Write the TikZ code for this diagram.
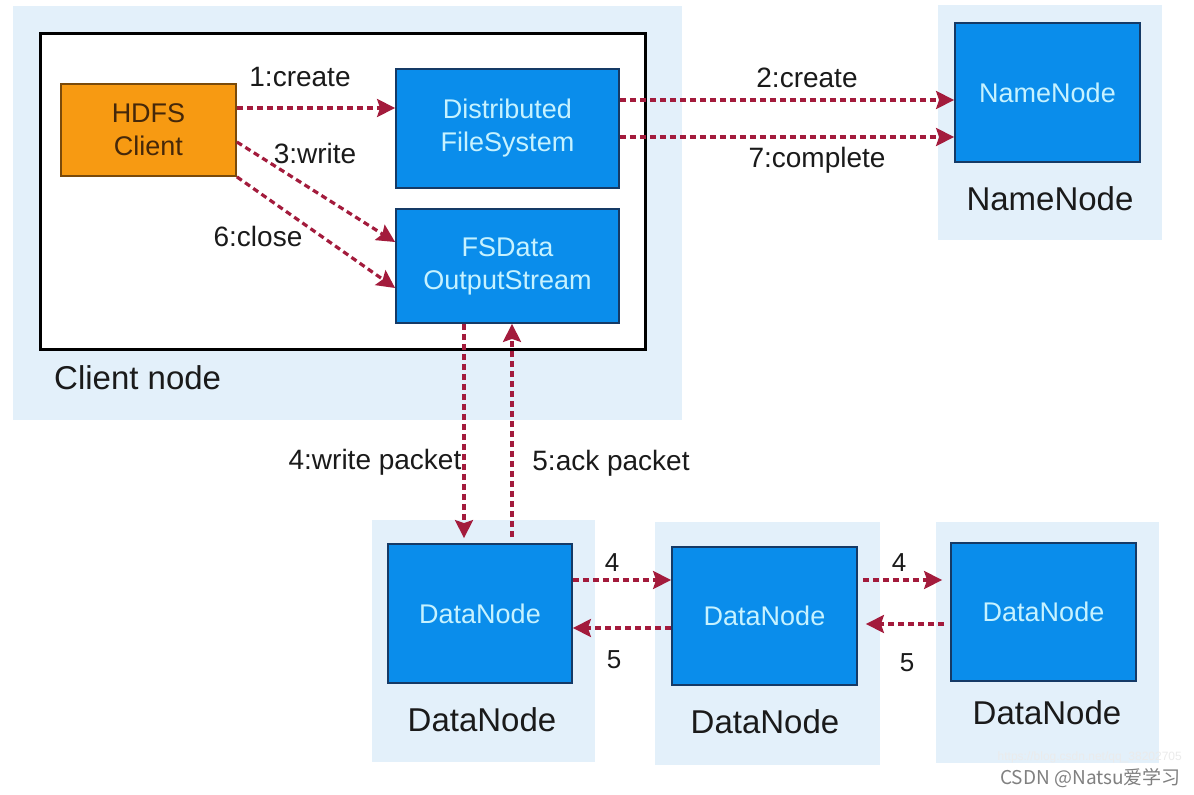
\documentclass[tikz,border=0pt]{standalone}
\usepackage{fontspec}
\setmainfont{Liberation Sans}
\newfontfamily\cjk{Noto Sans CJK SC}
\usetikzlibrary{arrows.meta,calc}
\definecolor{panelbg}{HTML}{E3F0FA}
\definecolor{boxblue}{HTML}{0A8DEB}
\definecolor{boxedge}{HTML}{153A66}
\definecolor{boxtext}{HTML}{C6F2FF}
\definecolor{orangefill}{HTML}{F79A12}
\definecolor{orangeedge}{HTML}{7A4A0A}
\definecolor{orangetext}{HTML}{45280A}
\definecolor{arrowred}{HTML}{A31B3C}
\definecolor{labeltext}{HTML}{1A1A1A}
\tikzset{
  panel/.style={fill=panelbg, draw=none},
  bluebox/.style={draw=boxedge, line width=1.8pt, fill=boxblue, text=boxtext,
    align=center, inner sep=0pt, font=\fontsize{27}{33}\selectfont},
  orangebox/.style={draw=orangeedge, line width=1.8pt, fill=orangefill, text=orangetext,
    align=center, inner sep=0pt, font=\fontsize{27}{33}\selectfont},
  biglabel/.style={text=labeltext, inner sep=0pt, font=\fontsize{33}{38}\selectfont},
  edgelabel/.style={text=labeltext, inner sep=0pt, font=\fontsize{28}{32}\selectfont},
  numlabel/.style={text=labeltext, inner sep=0pt, font=\fontsize{26}{30}\selectfont},
  arr/.style={draw=arrowred, line width=3.2pt, dash pattern=on 6pt off 4pt,
    -{Stealth[length=18pt,width=18pt,inset=3pt]}},
}
\begin{document}
\begin{tikzpicture}[x=1pt,y=-1pt]
\useasboundingbox (0,0) rectangle (1194,795);
\fill[white] (0,0) rectangle (1194,795);

% panels
\path[panel] (13,6) rectangle (682,420);
\path[panel] (938,5) rectangle (1162,240);
\path[panel] (372,520) rectangle (595,762);
\path[panel] (655,522) rectangle (880,765);
\path[panel] (936,522) rectangle (1159,763);

% client frame
\node[draw=black, line width=3pt, fill=white, minimum width=605pt, minimum height=316pt, inner sep=0pt] (frame) at (342.5,191) {};

% nodes
\node[orangebox, minimum width=175pt, minimum height=92pt] (hdfs) at (148.5,130) {HDFS\\Client};
\node[bluebox, minimum width=223pt, minimum height=119pt] (dfs) at (507.5,128.5) {Distributed\\FileSystem};
\node[bluebox, minimum width=223pt, minimum height=114pt] (fsd) at (507.5,266) {FSData\\OutputStream};
\node[bluebox, minimum width=185pt, minimum height=139pt] (nn) at (1047.5,92.5) {NameNode};
\node[bluebox, minimum width=184pt, minimum height=139pt] (dn1) at (480,613.5) {DataNode};
\node[bluebox, minimum width=185pt, minimum height=138pt] (dn2) at (764.5,616) {DataNode};
\node[bluebox, minimum width=185pt, minimum height=138pt] (dn3) at (1043.5,612) {DataNode};

% big labels
\node[biglabel, anchor=west] (clientlbl) at (54,378) {Client node};
\node[biglabel] (nnlbl) at (1050,199) {NameNode};
\node[biglabel] (dn1lbl) at (482,720) {DataNode};
\node[biglabel] (dn2lbl) at (765,722) {DataNode};
\node[biglabel] (dn3lbl) at (1047,713) {DataNode};

% connectors
\draw[arr] ([yshift=22pt]hdfs.east) -- ([yshift=22pt]hdfs.east -| dfs.west);
\draw[arr] ([yshift=-12pt]hdfs.east) -- ([yshift=24pt]fsd.west);
\draw[arr] (hdfs.south east) -- ([yshift=-22pt]fsd.west);
\draw[arr] ([yshift=28.5pt]dfs.east) -- ([yshift=28.5pt]dfs.east -| nn.west);
\draw[arr] ([yshift=-8.5pt]dfs.east) -- ([yshift=-8.5pt]dfs.east -| nn.west);
\draw[arr, shorten >=5pt] ([xshift=-43.5pt]fsd.south) -- ([xshift=-43.5pt]fsd.south |- dn1.north);
\draw[arr, shorten <=6pt] ([xshift=4.5pt]fsd.south |- dn1.north) -- ([xshift=4.5pt]fsd.south);
\draw[arr] ([yshift=33.5pt]dn1.east) -- ([yshift=33.5pt]dn1.east -| dn2.west);
\draw[arr] ([yshift=-12pt]dn2.west) -- ([yshift=-12pt]dn2.west -| dn1.east);
\draw[arr, shorten <=5pt, shorten >=8pt] ([yshift=36pt]dn2.east) -- ([yshift=36pt]dn2.east -| dn3.west);
\draw[arr, shorten <=6pt, shorten >=8pt] ([yshift=-12pt]dn3.west) -- ([yshift=-12pt]dn3.west -| dn2.east);

% edge labels
\node[edgelabel] (l1) at (300,77) {1:create};
\node[edgelabel] (l3) at (315,153) {3:write};
\node[edgelabel] (l6) at (258,236) {6:close};
\node[edgelabel] (l2) at (807,78) {2:create};
\node[edgelabel] (l7) at (817,160) {7:complete};
\node[edgelabel] (l4w) at (375,462) {4:write packet};
\node[edgelabel] (l5a) at (611,463) {5:ack packet};
\node[numlabel] (n4a) at (612,563) {4};
\node[numlabel] (n5a) at (614,660) {5};
\node[numlabel] (n4b) at (899,563) {4};
\node[numlabel] (n5b) at (907,663) {5};

% watermark
\node[text=black!8, inner sep=0pt, font=\fontsize{12}{14}\selectfont, anchor=east] (wm1) at (1182,757) {https://blog.csdn.net/qq\_38202705};
\node[text=black!50, inner sep=0pt, font=\cjk\fontsize{19}{22}\selectfont, anchor=east] (wm2) at (1181,778) {CSDN @Natsu爱学习};
\end{tikzpicture}
\end{document}
